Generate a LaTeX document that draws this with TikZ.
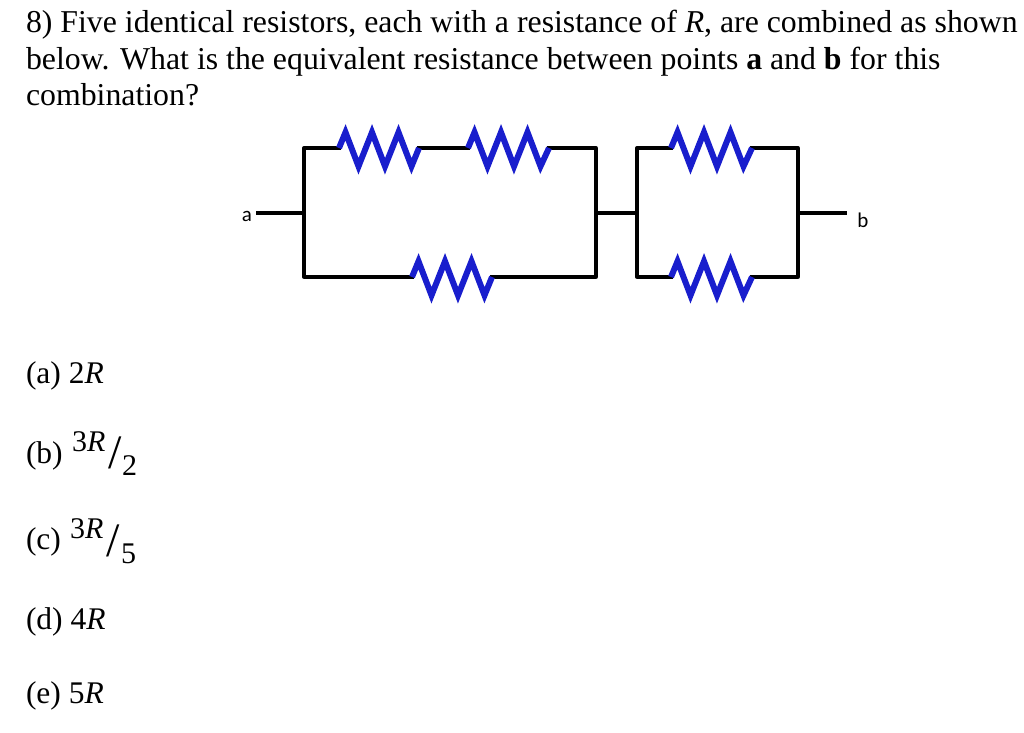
\documentclass[tikz,border=0pt]{standalone}
\usepackage{fontspec}
\setmainfont{Liberation Serif}
\newfontfamily\labelfont{Carlito}
\newcommand{\resistorzig}[2]{% start, end
  \draw[zigzag] (#1) -- ++(6.5,-15.7) -- ++(13,34) -- ++(13.5,-34) -- ++(13,34) -- ++(13.5,-34) -- ++(13,34) -- (#2);}
\tikzset{
  x=1pt,y=-1pt,
  wire/.style={line width=3.3pt,line cap=rect,line join=round,black},
  zigzag/.style={line width=6pt,line join=miter,miter limit=10,line cap=butt,color=zigblue},
  body/.style={font=\fontsize{31.8}{37}\selectfont,anchor=base west,inner sep=0pt,outer sep=0pt},
  opt/.style={font=\fontsize{31.5}{35}\selectfont,anchor=base west,inner sep=0pt,outer sep=0pt},
  up/.style={font=\fontsize{30}{32}\selectfont,anchor=base west,inner sep=0pt,outer sep=0pt},
  slash/.style={font=\fontsize{48}{50}\selectfont,anchor=base west,inner sep=0pt,outer sep=0pt},
  term/.style={font=\labelfont\fontsize{21}{24}\selectfont,anchor=base,inner sep=0pt,outer sep=0pt},
}
\definecolor{zigblue}{RGB}{25,30,205}
\begin{document}
\begin{tikzpicture}
\useasboundingbox (0,0) rectangle (1024,732);
\node[body] (l1) at (26,32) {8) Five identical resistors, each with a resistance of \textit{R}, are combined as shown};
\node[body] (l2) at (26,69) {below. What is the equivalent resistance between points \textbf{a} and \textbf{b} for this};
\node[body] (l3) at (26,105) {combination?};
\node[term] (ta) at (247,221) {a};
\node[term] (tb) at (863,227) {b};
\coordinate (ea) at (257.5,213);
\coordinate (eb) at (845,213);
\coordinate (j1) at (304,213);
\coordinate (j2) at (596,213);
\coordinate (j3) at (637,213);
\coordinate (j4) at (798,213);
\coordinate (c1t) at (304,148);
\coordinate (c1b) at (304,277);
\coordinate (c2t) at (596,148);
\coordinate (c2b) at (596,277);
\coordinate (c3t) at (637,148);
\coordinate (c3b) at (637,277);
\coordinate (c4t) at (798,148);
\coordinate (c4b) at (798,277);
\coordinate (ra) at (339,148); \coordinate (rb) at (419,148);
\coordinate (sa) at (468,148); \coordinate (sb) at (549,148);
\coordinate (wa) at (412,277); \coordinate (wb) at (492,277);
\coordinate (ua) at (671,148); \coordinate (ub) at (752,148);
\coordinate (va) at (671,277); \coordinate (vb) at (752,277);
\draw[wire] (ea) -- (j1);
\draw[wire] (j2) -- (j3);
\draw[wire] (j4) -- (eb);
\draw[wire] (ra) -- (c1t) -- (c1b) -- (wa);
\draw[wire] (rb) -- (sa);
\draw[wire] (sb) -- (c2t) -- (c2b) -- (wb);
\draw[wire] (ua) -- (c3t) -- (c3b) -- (va);
\draw[wire] (ub) -- (c4t) -- (c4b) -- (vb);
\resistorzig{ra}{rb}
\resistorzig{sa}{sb}
\resistorzig{wa}{wb}
\resistorzig{ua}{ub}
\resistorzig{va}{vb}
\node[opt] (oa) at (26,383) {(a) 2\textit{R}};
\node[opt] (ob) at (26,463) {(b)};
\node[up] (ob1) at (72,451) {3\textit{R}};
\node[slash] (ob2) at (108,468) {/};
\node[up] (ob3) at (122,475) {2};
\node[opt] (oc) at (26,549) {(c)};
\node[up] (oc1) at (70,538) {3\textit{R}};
\node[slash] (oc2) at (106,556) {/};
\node[up] (oc3) at (121,563) {5};
\node[opt] (od) at (26,629) {(d) 4\textit{R}};
\node[opt] (oe) at (26,703) {(e) 5\textit{R}};
\end{tikzpicture}
\end{document}
